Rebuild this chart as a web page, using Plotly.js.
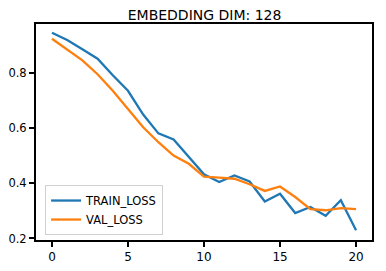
<!DOCTYPE html>
<html>
<head>
<meta charset="utf-8">
<script src="https://cdn.plot.ly/plotly-3.0.1.min.js"></script>
<style>html,body{margin:0;padding:0;background:#fff;}#chart{width:386px;height:271px;}</style>
</head>
<body>
<div id="chart"></div>
<script>
const epochs = [0,1,2,3,4,5,6,7,8,9,10,11,12,13,14,15,16,17,18,19,20];
const trainLoss = [0.944,0.918,0.884,0.850,0.790,0.734,0.648,0.580,0.558,0.496,0.432,0.404,0.428,0.406,0.334,0.362,0.292,0.314,0.282,0.338,0.230];
const valLoss = [0.922,0.884,0.844,0.794,0.734,0.668,0.602,0.548,0.500,0.470,0.424,0.420,0.416,0.396,0.372,0.388,0.350,0.306,0.302,0.310,0.306];
const seriesNames = ['TRAIN_LOSS','VAL_LOSS'];
const titleText = 'EMBEDDING DIM: 128';
const xTicks = [0,5,10,15,20];
const yTicks = [0.2,0.4,0.6,0.8];

const fontFam = 'DejaVu Sans, sans-serif';
const traces = [
  {x: epochs, y: trainLoss, name: seriesNames[0], type:'scatter', mode:'lines', line:{color:'#1f77b4', width:2.3}},
  {x: epochs, y: valLoss, name: seriesNames[1], type:'scatter', mode:'lines', line:{color:'#ff7f0e', width:2.3}}
];
const layout = {
  width: 386, height: 271,
  margin: {l:36, r:14, t:24, b:31, pad:0},
  paper_bgcolor:'#fff', plot_bgcolor:'#fff',
  font: {family: fontFam, color:'#000', size:11},
  title: {text: titleText, font:{family: fontFam, size:14, color:'#000'}, x:0.53, xanchor:'center', y:0.945, yanchor:'middle'},
  showlegend: true,
  legend: {x:0.027, y:0.023, xanchor:'left', yanchor:'bottom', bgcolor:'rgba(255,255,255,0.8)', bordercolor:'#d0d0d0', borderwidth:1, font:{family: fontFam, size:11.5, color:'#000'}, itemwidth:30, tracegroupgap:0},
  xaxis: {range:[-1.05,21.05], tickvals: xTicks, ticktext: xTicks.map(String), showgrid:false, zeroline:false, showline:true, mirror:true, linecolor:'#000', linewidth:2, ticks:'outside', ticklen:5, tickwidth:2, tickcolor:'#000', tickfont:{family:fontFam, size:12}},
  yaxis: {range:[0.1945,0.9755], tickvals: yTicks, ticktext: yTicks.map(v=>v.toFixed(1)), showgrid:false, zeroline:false, showline:true, mirror:true, linecolor:'#000', linewidth:2, ticks:'outside', ticklen:5, tickwidth:2, tickcolor:'#000', tickfont:{family:fontFam, size:11.5}}
};
Plotly.newPlot('chart', traces, layout, {displayModeBar:false, staticPlot:true});
</script>
</body>
</html>
